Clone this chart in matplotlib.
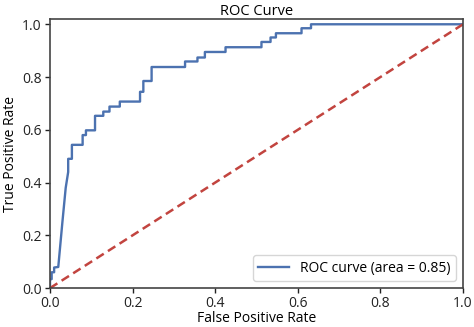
import matplotlib
matplotlib.use("Agg")
import matplotlib.pyplot as plt

# ROC curve points (step curve)
fpr = [0.000, 0.000, 0.004, 0.004, 0.010, 0.010, 0.020, 0.030, 0.038, 0.044,
       0.044, 0.053, 0.053, 0.079, 0.079, 0.087, 0.087, 0.109, 0.109, 0.129,
       0.129, 0.144, 0.144, 0.169, 0.169, 0.218, 0.218, 0.226, 0.226, 0.246,
       0.246, 0.327, 0.327, 0.357, 0.357, 0.375, 0.375, 0.425, 0.425, 0.512,
       0.512, 0.534, 0.534, 0.547, 0.547, 0.609, 0.609, 0.632, 0.632, 1.000]
tpr = [0.000, 0.034, 0.034, 0.060, 0.060, 0.078, 0.080, 0.250, 0.380, 0.440,
       0.490, 0.490, 0.543, 0.543, 0.580, 0.580, 0.598, 0.598, 0.653, 0.653,
       0.669, 0.669, 0.688, 0.688, 0.707, 0.707, 0.744, 0.744, 0.785, 0.785,
       0.838, 0.838, 0.859, 0.859, 0.874, 0.874, 0.895, 0.895, 0.913, 0.913,
       0.933, 0.933, 0.950, 0.950, 0.966, 0.966, 0.985, 0.985, 1.000, 1.000]
roc_auc = 0.85
ticks = [0.0, 0.2, 0.4, 0.6, 0.8, 1.0]

plt.rcParams["font.family"] = ["Open Sans", "DejaVu Sans"]

fig = plt.figure(figsize=(4.74, 3.27), dpi=100)
ax = fig.add_axes([0.1055, 0.1190, 0.8713, 0.8229])

ax.plot(fpr, tpr, color="#4C72B0", lw=1.7,
        label=f"ROC curve (area = {roc_auc:.2f})")
ax.plot([0, 1], [0, 1], color="#C2443F", lw=1.8, ls=(0, (3.5, 2)))

ax.set_xlim(0, 1.0)
ax.set_ylim(0, 1.02)
ax.set_xticks(ticks)
ax.set_yticks(ticks)
ax.tick_params(labelsize=10, colors="#222", length=3.5, width=1.0, pad=2.5)
for sp in ax.spines.values():
    sp.set_color("#444")
    sp.set_linewidth(1.2)

ax.set_xlabel("False Positive Rate", fontsize=10, labelpad=0)
ax.set_ylabel("True Positive Rate", fontsize=10, labelpad=3)
ax.set_title("ROC Curve", fontsize=10.5, pad=3)
ax.legend(loc="lower right", fontsize=10, frameon=True, fancybox=True,
          edgecolor="#ccc", handlelength=2.2, borderaxespad=0.5)

fig.savefig("out.png", dpi=100)
